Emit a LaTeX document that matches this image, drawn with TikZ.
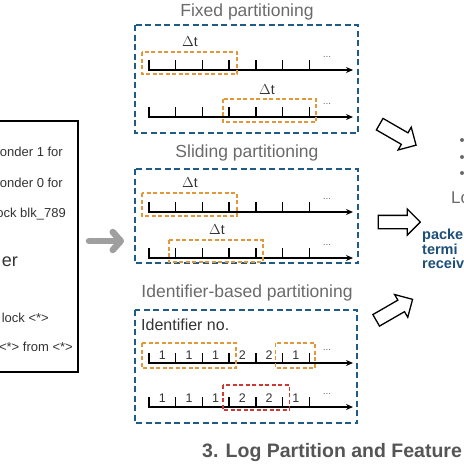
\documentclass[tikz,border=0pt]{standalone}
\usepackage{fontspec}
\setmainfont{Liberation Sans}
\usepackage{xcolor}
\usepackage{tikz}
\usetikzlibrary{positioning,arrows.meta,shapes.arrows}
\definecolor{FrameBlue}{HTML}{1E5C87}
\definecolor{WinOrange}{HTML}{E2983A}
\definecolor{WinRed}{HTML}{CC3A33}
\definecolor{TitleGray}{HTML}{6A6A6A}
\definecolor{TextDark}{HTML}{333333}
\definecolor{LabelBlue}{HTML}{1C4F7A}

\begin{document}
\begin{tikzpicture}[x=1pt,y=-1pt,
    every node/.style={inner sep=0pt},
    frame/.style={draw=FrameBlue, line width=2.4pt, dash pattern=on 6pt off 3.5pt},
    win/.style={draw=WinOrange, line width=1.8pt, dash pattern=on 4pt off 2.5pt},
    title/.style={font=\fontsize{17.5}{20}\selectfont, text=TitleGray},
    axis/.style={line width=1.4pt, -{Stealth[length=7pt,width=6pt]}},
    dlabel/.style={font=\fontsize{14}{16}\selectfont, text=TextDark},
    idnum/.style={font=\fontsize{12.5}{14}\selectfont, text=TextDark},
    more/.style={font=\fontsize{10}{11}\selectfont, text=TitleGray},
    logline/.style={font=\fontsize{13}{15}\selectfont, text=TextDark, anchor=east},
    hollow/.style={single arrow, draw, line width=1.3pt, minimum height=42pt,
      inner xsep=0pt, inner ysep=6pt, single arrow head extend=6.5pt}]

  \useasboundingbox (0,0) rectangle (464,464);

  % raw log panel (cut by the left border)
  \draw[line width=1.3pt] (-5,121) rectangle (78,372);
  \node[logline] (log1) at (63,152) {onder 1 for};
  \node[logline] (log2) at (63,183) {onder 0 for};
  \node[logline] (log3) at (66,214) {ock blk\_789};
  \node[logline, font=\fontsize{18}{20}\selectfont] (log4) at (18,262) {er};
  \node[logline] (log5) at (49,318) {lock <*>};
  \node[logline] (log6) at (73,347) {<*> from <*>};

  \coordinate (go-s) at (89,241);
  \coordinate (go-e) at (124,241);
  \draw[line width=6.5pt, gray!75, line cap=round,
    -{Straight Barb[length=8pt,width=18pt,round]}] (go-s) -- (go-e);

  % three partitioning panels
  \draw[frame] (135,25) rectangle (358,133);
  \draw[frame] (135,169) rectangle (358,263);
  \draw[frame] (135,310) rectangle (357,423);
  \node[title] (t-fixed) at (247,12) {Fixed partitioning};
  \node[title] (t-slide) at (247,153) {Sliding partitioning};
  \node[title] (t-ident) at (247,293) {Identifier-based partitioning};

  \foreach \row/\yy in {fa/70, fb/117, sa/212, sb/258, ia/363, ib/407} {
    \coordinate (\row-s) at (148,\yy);
    \coordinate (\row-e) at (353,\yy);
    \draw[axis] (\row-s) -- (\row-e);
    \foreach \k in {0,...,6} {
      \coordinate (\row\k) at (149+26.7*\k,\yy);
      \draw[line width=1.4pt] (\row\k) -- ++(0,-10);
    }
    \node[more] (\row-more) at (327,\yy-13) {...};
  }

  \draw[win] ([shift={(-7,-18)}]fa0) rectangle ([shift={(8,4)}]fa3);
  \node[dlabel] (dt-fa) at (190,42) {$\Delta$t};
  \draw[win] ([shift={(-6,-18)}]fb3) rectangle ([shift={(7,5)}]fb6);
  \node[dlabel] (dt-fb) at (267,90) {$\Delta$t};

  \draw[win] ([shift={(-7,-19)}]sa0) rectangle ([shift={(8,4)}]sa3);
  \node[dlabel] (dt-sa) at (190,183) {$\Delta$t};
  \draw[win] ([shift={(-7,-18)}]sb1) rectangle ([shift={(7,4)}]sb4);
  \node[dlabel] (dt-sb) at (217,230) {$\Delta$t};

  \node[anchor=west, font=\fontsize{16}{18}\selectfont, text=TextDark] (idno) at (141,325) {Identifier no.};
  \foreach \n [count=\k from 0] in {1,1,1,2,2,1} {
    \node[idnum] (ia-n\k) at (162.3+26.7*\k,355) {\n};
    \node[idnum] (ib-n\k) at (162.3+26.7*\k,398) {\n};
  }
  \draw[win] ([shift={(-7,-20)}]ia0) rectangle ([shift={(7,5)}]ia3);
  \draw[win] ([shift={(-7,-20)}]ia5) rectangle ([shift={(6,5)}]ia6);
  \draw[win, draw=WinRed] ([shift={(-6,-22)}]ib3) rectangle ([shift={(7,3)}]ib5);

  % hand-over arrows
  \node[hollow, rotate=-30] (go-fixed) at (395,133) {};
  \node[hollow] (go-slide) at (396,222) {};
  \node[hollow, rotate=30] (go-ident) at (391.5,311.5) {};

  % cut-off feature panel
  \foreach \yy in {140,157,173}
    \fill[TitleGray] (462,\yy) circle (2pt);
  \node[anchor=west, font=\fontsize{17}{19}\selectfont, text=TitleGray] (lo) at (451,198) {Lo};
  \node[anchor=west, font=\bfseries\fontsize{14.5}{16}\selectfont, text=LabelBlue] (w1) at (422,236) {packe};
  \node[anchor=west, font=\bfseries\fontsize{14.5}{16}\selectfont, text=LabelBlue] (w2) at (422,249) {termi};
  \node[anchor=west, font=\bfseries\fontsize{14.5}{16}\selectfont, text=LabelBlue] (w3) at (422,263) {receiv};

  \node[anchor=west, font=\bfseries\fontsize{19.5}{22}\selectfont, text=TitleGray!80!black] (caption) at (202,452) {3. Log Partition and Feature};
\end{tikzpicture}
\end{document}
